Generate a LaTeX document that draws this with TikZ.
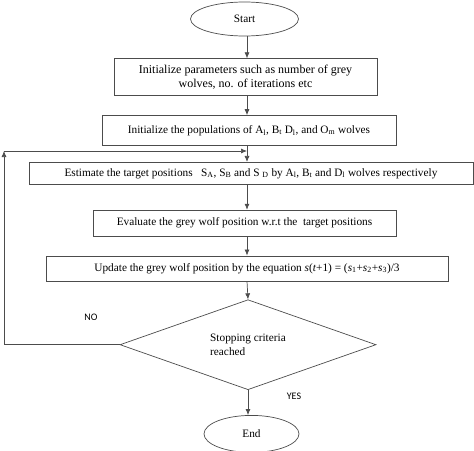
\documentclass[tikz,border=0pt]{standalone}
\usepackage{fontspec}
\setmainfont{Liberation Serif}
\newfontfamily\lblfont{Carlito}
\usepackage{tikz}
\usetikzlibrary{positioning,shapes,arrows.meta}
\definecolor{linegrey}{rgb}{0.3,0.3,0.3}
\tikzstyle{term}=[%
      ellipse, draw=linegrey, line width=0.7pt,
      minimum width=108pt, minimum height=34pt, inner sep=0pt
]
\tikzstyle{pr}=[%
      rectangle, draw=linegrey, line width=0.8pt, align=center, inner sep=0pt
]
\tikzstyle{dc}=[%
      diamond, aspect=2.84, draw=linegrey, line width=0.7pt,
      minimum width=256pt, minimum height=90pt, inner sep=0pt, align=left
]
\tikzstyle{lbl}=[font=\lblfont\fontsize{10}{12}\selectfont]

\begin{document}
\begin{tikzpicture}[x=1pt, y=-1pt,
    font=\fontsize{11.3}{13.5}\selectfont,
    draw=linegrey, line width=0.7pt,
    ->,
    -{Latex[length=6pt,width=5pt]}
  ]
    \useasboundingbox (0,0) rectangle (474,450);
    \node[term]  (start) at (244.5,19) {Start};
    \node[pr, minimum width=263pt, minimum height=37pt, font=\fontsize{12}{14.5}\selectfont] (init) [below = 22pt of start, xshift=1pt]
          {Initialize parameters such as number of grey\\wolves, no. of iterations etc};
    \node[pr, minimum width=294pt, minimum height=30pt] (pop)  [below = 19pt of init, xshift=3.5pt]
          {Initialize the populations of A\textsubscript{l}, B\textsubscript{t} D\textsubscript{l}, and O\textsubscript{m} wolves};
    \node[pr, minimum width=444pt, minimum height=22pt] (est)  [below = 16pt of pop, xshift=2pt]
          {Estimate the target positions\ \ \ S\textsubscript{A}, S\textsubscript{B} and S \textsubscript{D} by A\textsubscript{l}, B\textsubscript{t} and D\textsubscript{l} wolves respectively};
    \node[pr, minimum width=303pt, minimum height=26pt] (eval) [below = 25pt of est, xshift=-6.5pt]
          {Evaluate the grey wolf position w.r.t the\ \ target positions};
    \node[pr, minimum width=402pt, minimum height=25pt] (upd)  [below = 19pt of eval, xshift=2.5pt]
          {Update the grey wolf position by the equation \textit{s}(\textit{t}+1) = (\textit{s}\textsubscript{1}+\textit{s}\textsubscript{2}+\textit{s}\textsubscript{3})/3};
    \node[dc]    (dec)  [below = 18pt of upd, xshift=1pt] {Stopping criteria\\reached};
    \node[term, minimum width=95pt, minimum height=37pt] (end) [below = 25pt of dec, xshift=3.5pt] {End};

    \node[lbl] (no)  at (91,317)  {NO};
    \node[lbl] (yes) at (294,396) {YES};

    \coordinate (ax) at (247,0);
    \coordinate (lp) at (4,151);

    \path (ax |- start.south) edge (ax |- init.north)
          (ax |- init.south)  edge (ax |- pop.north)
          (ax |- pop.south)   edge (ax |- est.north)
          (ax |- est.south)   edge (ax |- eval.north)
          (ax |- eval.south)  edge (ax |- upd.north)
          (ax |- upd.south)   edge (dec.north)
          (dec.south)         edge (dec.south |- end.north)
    ;
    \draw (dec.west) -| (lp);
    \draw (lp) -- (ax |- lp);
  \end{tikzpicture}
\end{document}
